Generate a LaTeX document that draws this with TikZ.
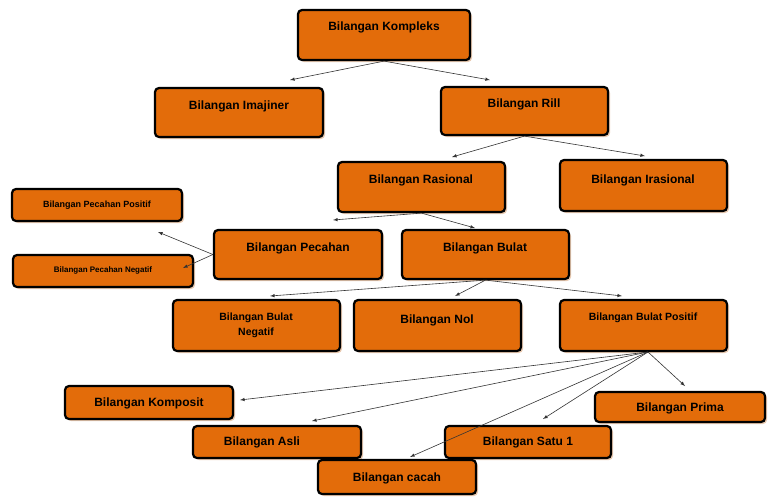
\documentclass[tikz,border=0pt]{standalone}
\usepackage{fontspec}
\setmainfont{Liberation Sans}
\usetikzlibrary{shadows}
\begin{document}
\begin{tikzpicture}[x=1pt,y=-1pt,
  box/.style={draw=black,line width=2.2pt,rounded corners=4pt,fill=orange0,
    font=\bfseries\fontsize{12}{14}\selectfont,align=center,inner sep=1pt,
    drop shadow={shadow xshift=2pt,shadow yshift=-2pt,fill=shadowc,opacity=1}},
  sm/.style={font=\bfseries\fontsize{9}{11}\selectfont},
  arr/.style={-latex,line width=0.6pt,draw=black!80}]
\definecolor{orange0}{HTML}{E36C0A}
\definecolor{shadowc}{HTML}{E8C9B0}
\useasboundingbox (0,0) rectangle (768,499);
\newcommand{\bx}[6]{\node[box,#6,minimum width=#4-#2,minimum height=#5-#3] (#1) at ({(#2+#4)/2},{(#3+#5)/2}) {};}
\bx{komp}{298}{10}{470}{60}{} \node[font=\bfseries\fontsize{12}{14}\selectfont] at (384,27) {Bilangan Kompleks};
\bx{imaj}{155}{88}{323}{137}{} \node[font=\bfseries\fontsize{12}{14}\selectfont] at (239,106) {Bilangan Imajiner};
\bx{rill}{441}{87}{608}{135}{} \node[font=\bfseries\fontsize{12}{14}\selectfont] at (524,104) {Bilangan Rill};
\bx{ras}{338}{162}{505}{212}{} \node[font=\bfseries\fontsize{12}{14}\selectfont] at (421,180) {Bilangan Rasional};
\bx{iras}{560}{160}{727}{211}{} \node[font=\bfseries\fontsize{12}{14}\selectfont] at (643,180) {Bilangan Irasional};
\bx{pp}{12}{189}{182}{221}{} \node[sm] at (97,205) {Bilangan Pecahan Positif};
\bx{pn}{13}{255}{193}{287}{} \node[sm,font=\bfseries\fontsize{8}{10}\selectfont] at (103,270) {Bilangan Pecahan Negatif};
\bx{pec}{214}{230}{382}{279}{} \node[font=\bfseries\fontsize{12}{14}\selectfont] at (298,248) {Bilangan Pecahan};
\bx{bul}{402}{230}{569}{279}{} \node[font=\bfseries\fontsize{12}{14}\selectfont] at (485,248) {Bilangan Bulat};
\bx{bneg}{173}{300}{340}{351}{} \node[font=\bfseries\fontsize{10.5}{15}\selectfont,align=center] at (256,325) {Bilangan Bulat\\Negatif};
\bx{nol}{354}{300}{521}{351}{} \node[font=\bfseries\fontsize{12}{14}\selectfont] at (437,320) {Bilangan Nol};
\bx{bpos}{560}{300}{727}{351}{} \node[font=\bfseries\fontsize{10.5}{14}\selectfont] at (643,318) {Bilangan Bulat Positif};
\bx{komposit}{65}{386}{233}{419}{} \node[font=\bfseries\fontsize{12}{14}\selectfont] at (149,403) {Bilangan Komposit};
\bx{prima}{595}{392}{765}{422}{} \node[font=\bfseries\fontsize{12}{14}\selectfont] at (680,408) {Bilangan Prima};
\bx{asli}{193}{426}{361}{458}{} \node[font=\bfseries\fontsize{12}{14}\selectfont] at (262,442) {Bilangan Asli};
\bx{satu}{445}{426}{611}{458}{} \node[font=\bfseries\fontsize{12}{14}\selectfont] at (528,442) {Bilangan Satu 1};
\bx{cacah}{318}{460}{476}{494}{} \node[font=\bfseries\fontsize{12}{14}\selectfont] at (397,478) {Bilangan cacah};
% arrows
\coordinate (t1) at (290,80); \coordinate (t2) at (490,80);
\draw[arr] (komp.south) -- (t1); \draw[arr] (komp.south) -- (t2);
\coordinate (t3) at (452,157); \coordinate (t4) at (645,156);
\draw[arr] (rill.south) -- (t3); \draw[arr] (rill.south) -- (t4);
\coordinate (t5) at (333,220); \coordinate (t6) at (475,228);
\draw[arr] (ras.south) -- (t5); \draw[arr] (ras.south) -- (t6);
\coordinate (t7) at (158,232); \coordinate (t8) at (183,268);
\draw[arr] (pec.west) -- (t7); \draw[arr] (pec.west) -- (t8);
\coordinate (t9) at (270,296); \coordinate (t10) at (455,296); \coordinate (t11) at (622,296);
\draw[arr] (bul.south) -- (t9); \draw[arr] (bul.south) -- (t10); \draw[arr] (bul.south) -- (t11);
\coordinate (s) at (648,352);
\coordinate (u1) at (240,400); \coordinate (u2) at (312,421); \coordinate (u3) at (543,419);
\coordinate (u4) at (410,457); \coordinate (u5) at (685,386);
\foreach \u in {u1,u2,u3,u4,u5} \draw[arr] (s) -- (\u);
\end{tikzpicture}
\end{document}
